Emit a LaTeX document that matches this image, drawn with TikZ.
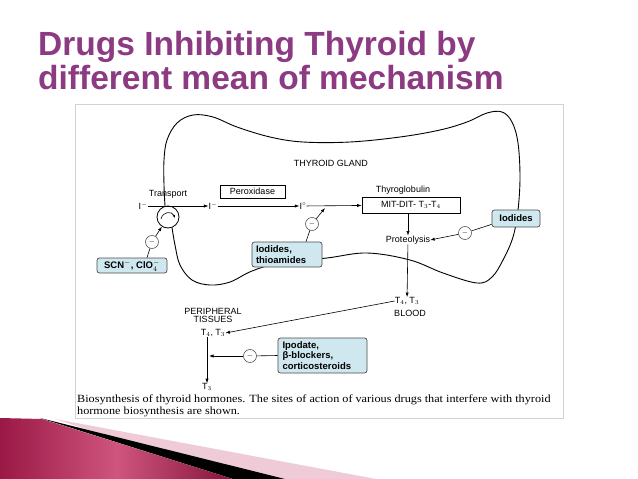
\documentclass[tikz,border=0pt]{standalone}
\usepackage{fontspec}
\setmainfont{Liberation Serif}
\setsansfont{Liberation Sans}
\newfontfamily\capfont[FakeStretch=1.11]{Liberation Serif}
\usetikzlibrary{arrows.meta,calc}
\definecolor{titlec}{HTML}{8C3A82}
\definecolor{boxfill}{HTML}{CFE8EF}
\definecolor{crim}{HTML}{9A1845}
\definecolor{crimlight}{HTML}{CF557E}
\definecolor{pinkl}{HTML}{EECBD6}
\begin{document}
\begin{tikzpicture}[x=1pt,y=-1pt,
 lbl/.style={font=\sffamily\fontsize{9}{10}\selectfont, inner sep=0pt},
 drug/.style={draw=black!70, fill=boxfill, rounded corners=2.5pt, line width=0.7pt,
   font=\sffamily\bfseries\fontsize{9.5}{10.5}\selectfont, align=left, inner sep=0pt},
 inh/.style={draw=black!65, fill=white, circle, minimum size=13pt, inner sep=0pt, line width=0.6pt,
   font=\fontsize{7}{7}\selectfont},
 arr/.style={-{Latex[length=4.5pt,width=3.2pt]}, line width=0.6pt},
 ln/.style={line width=0.6pt},
 ttl/.style={anchor=base west, text=titlec, font=\sffamily\bfseries\fontsize{33.5}{34}\selectfont, inner sep=0pt},
 captxt/.style={anchor=base west, font=\capfont\fontsize{11}{12}\selectfont, inner sep=0pt}]
\useasboundingbox (0,0) rectangle (638,479);
\fill[white] (0,0) rectangle (638,479);

% decorative wedge
\fill[pinkl] (55,419) -- (376,479) -- (240,479) -- cycle;
\fill[black] (40,418) -- (285,479) -- (233,479) -- cycle;
\shade[left color=crim, right color=crim!85!black, middle color=crimlight] (0,418) -- (42,419) -- (233,479) -- (0,479) -- cycle;

% title
\node[ttl] (t1) at (38,55) {Drugs Inhibiting Thyroid by};
\node[ttl] (t2) at (38,89) {different mean of mechanism};

% frame
\draw[gray!35, line width=0.7pt] (75,104) rectangle (563,418);

% transport circle
\node[circle, draw, minimum size=22pt, inner sep=0pt, line width=0.8pt] (tc) at (168,217) {};
\draw[-{Latex[length=3pt,width=2.5pt]}, line width=0.6pt] (161,219) .. controls (163,211) and (172,211) .. (175,218);

% gland outline
\draw[line width=0.9pt] plot[smooth, tension=0.6] coordinates {
 (172,227.5) (175,245) (180,265) (192,280) (210,285) (230,282) (252,271) (280,263)
 (327,258) (367,253) (410,260) (443,273) (477,283) (492,277) (503,260) (513,237)
 (518,210) (520,177) (518,143) (512,122) (502,112) (487,113) (467,122) (440,130)
 (400,137) (350,142) (303,142) (270,137) (237,127) (213,117) (193,115) (177,123)
 (167,140) (164,160) (164,185) (165,206)};

\node[lbl] (gland) at (331,163) {THYROID GLAND};

% pathway
\node[lbl] (im1) at (143,206) {I$^-$};
\node[lbl] (im2) at (213,206) {I$^-$};
\node[lbl] (transp) at (168,194) {Transport};
\draw[arr] (im1) -- (im2);
\node[lbl, draw, line width=0.6pt, minimum width=65pt, minimum height=13pt] (perox) at (252.5,191.5) {Peroxidase};
\node[lbl] (i0) at (303,206) {I$^{\circ}$};
\draw[arr] (im2) -- (i0);
\node[lbl, draw, line width=0.6pt, minimum width=98pt, minimum height=16pt] (mit) at (411,205) {MIT-DIT- T$_3$-T$_4$};
\node[lbl] (tgl) at (403,190) {Thyroglobulin};
\draw[arr] (i0) -- (mit);
\node[lbl] (prot) at (408,240) {Proteolysis};
\draw[arr] (mit.south -| prot) -- (prot);
\node[lbl] (tblood) at (407,301) {T$_4$, T$_3$};
\node[lbl] (blood) at (410,313) {BLOOD};
\draw[arr] (prot) -- (tblood);

\node[lbl] (peri) at (213,311) {PERIPHERAL};
\node[lbl] (tiss) at (213,319) {TISSUES};
\node[lbl] (tper) at (213,333) {T$_4$, T$_3$};
\draw[arr] (tblood.west) -- (tper.east);
\node[lbl] (t3) at (207,387) {T$_3$};
\draw[arr] (tper.south -| t3) -- (t3);
\coordinate (hit) at (209,356);

% drugs and inhibitions
\node[drug, minimum width=70pt, minimum height=15pt] (scn) at (132,265.5) {SCN$^-$, ClO$_4^-$};
\node[inh] (m1) at (152,242) {$-$};
\draw[ln] (scn.north -| 147,0) -- (m1);
\draw[arr] (m1) -- (tc);

\node[drug, minimum width=70pt, minimum height=25pt, text width=62pt] (thio) at (287,254.5) {Iodides,\\thioamides};
\node[inh] (m2) at (312,224) {$-$};
\draw[ln] (thio.north -| 306,0) -- (m2);
\coordinate (thiohit) at (325,208);
\draw[arr] (m2) -- (thiohit);

\node[drug, minimum width=48pt, minimum height=17pt, align=center] (iod) at (516,218.5) {Iodides};
\node[inh] (m3) at (465,233) {$-$};
\draw[ln] ($(iod.south west)+(0,-3)$) -- (m3);
\draw[arr] (m3) -- (prot.east);

\node[drug, minimum width=89pt, minimum height=35pt, text width=80pt] (ipo) at (322.5,355.5) {Ipodate,\\β-blockers,\\corticosteroids};
\node[inh] (m4) at (250,356) {$-$};
\draw[ln] (ipo.west) -- (m4);
\draw[arr] (m4) -- (hit);

% caption
\node[captxt] (cap1) at (77,402.5) {Biosynthesis of thyroid hormones. The sites of action of various drugs that interfere with thyroid};
\node[captxt] (cap2) at (77,414) {hormone biosynthesis are shown.};
\end{tikzpicture}
\end{document}
